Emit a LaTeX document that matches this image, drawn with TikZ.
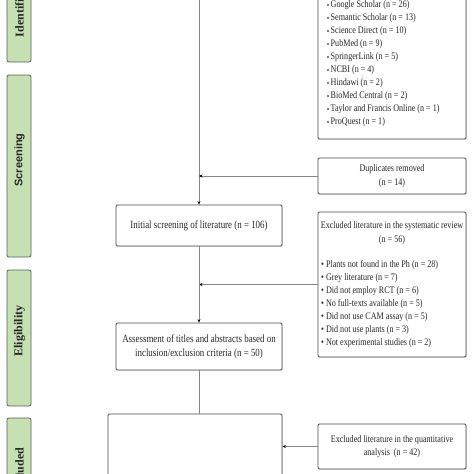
\documentclass[tikz,border=0pt]{standalone}
\usepackage{fontspec}
\setmainfont{Liberation Serif}[FakeStretch=0.81]
\newfontfamily\labserif{Liberation Serif}
\newfontfamily\labsans{Liberation Sans}
\usetikzlibrary{arrows.meta,shadows}
\definecolor{phasegreen}{HTML}{C6E0B4}
\definecolor{phaseedge}{HTML}{56634D}
\definecolor{boxedge}{HTML}{4A4A4A}
\definecolor{linkgray}{HTML}{858585}
\begin{document}
\begin{tikzpicture}[x=1pt,y=-1pt,
  phase/.style={draw=phaseedge, fill=phasegreen, line width=0.8pt, rounded corners=2pt},
  phaselab/.style={rotate=90, inner sep=0pt, text=black!85, font=\labserif\fontsize{12}{14}\selectfont\bfseries},
  phaselabsans/.style={rotate=90, inner sep=0pt, text=black!85, font=\labsans\fontsize{11}{13}\selectfont\bfseries},
  flowbox/.style={draw=boxedge, line width=0.8pt, rounded corners=1.2pt, fill=white,
     drop shadow={shadow xshift=0.7pt, shadow yshift=-0.7pt, opacity=0.35}},
  centertext/.style={align=center, font=\fontsize{11}{14}\selectfont, text=black!85},
  sidetext/.style={align=center, font=\fontsize{10}{14}\selectfont, text=black!85},
  sidetextb/.style={align=center, font=\fontsize{10}{13}\selectfont, text=black!85},
  listline/.style={anchor=west, inner sep=0pt, text height=7pt, text depth=2pt, font=\fontsize{10}{13}\selectfont, text=black!85},
  link/.style={draw=linkgray, line width=0.9pt, -{Stealth[length=3.5pt,width=3pt,color=black]}},
  linkplain/.style={draw=linkgray, line width=0.9pt},
]
\useasboundingbox (0,0) rectangle (474,474);
\fill[white] (0,0) rectangle (474,474);
\clip (0,0) rectangle (474,474);

% phase bars
\draw[phase] (7,-58) rectangle (31,62);
\draw[phase] (7,75) rectangle (31,257);
\draw[phase] (7,270) rectangle (31,406);
\draw[phase] (7,418) rectangle (31,540);
\node[phaselab] (labident) at (19.5,2.5) {Identification};
\node[phaselabsans] (labscreen) at (19.5,160) {Screening};
\node[phaselab] (labelig) at (19.5,331) {Eligibility};
\node[phaselab] (labincl) at (19.5,470.5) {Included};

% right column boxes
\node[flowbox, minimum width=148pt, minimum height=199pt] (db) at (392,39.5) {};
\foreach \t [count=\i] in {Google Scholar (n = 26), Semantic Scholar (n = 13), Science Direct (n = 10), PubMed (n = 9), SpringerLink (n = 5), NCBI (n = 4), Hindawi (n = 2), BioMed Central (n = 2), Taylor and Francis Online (n = 1), ProQuest (n = 1)}
  \node[listline] (dbitem\i) at (326.5,-8+13*\i) {{\color{gray}\rule[2pt]{1.8pt}{1.8pt}}\hspace{2.2pt}\t};

\node[flowbox, minimum width=148pt, minimum height=36pt, sidetext] (dup) at (392,176) {Duplicates removed\\(n = 14)};

\node[flowbox, minimum width=148pt, minimum height=145pt] (excl1) at (392,284.5) {};
\node[sidetext, inner sep=0pt] (excl1head) at (392,233) {Excluded literature in the systematic review\\(n = 56)};
\foreach \t [count=\i] in {Plants not found in the Ph (n = 28), Grey literature (n = 7), Did not employ RCT (n = 6), No full-texts available (n = 5), Did not use CAM assay (n = 5), Did not use plants (n = 3), Not experimental studies (n = 2)}
  \node[listline] (exitem\i) at (321,252+13*\i) {•~\t};

\node[flowbox, minimum width=148pt, minimum height=45pt, sidetextb] (excl2) at (392,446.5) {Excluded literature in the quantitative\\analysis~~(n = 42)};

% central column boxes
\node[flowbox, minimum width=166pt, minimum height=41pt, centertext] (init) at (199,225.5) {Initial screening of literature (n = 106)};
\node[flowbox, minimum width=166pt, minimum height=47pt, centertext] (assess) at (199,346.5) {Assessment of titles and abstracts based on\\inclusion/exclusion criteria (n = 50)};
\node[flowbox, minimum width=174pt, minimum height=106pt] (bottombox) at (195,467) {};

% connectors
\coordinate (topin) at (199,-5);
\draw[link] (topin) -- (init.north);
\draw[link] (dup.west) -- (dup.west -| init.north);
\draw[link] (excl1.west) -- (excl1.west -| init.north);
\draw[link] (init.south) -- (assess.north);
\draw[linkplain] (assess.south) -- (assess.south |- bottombox.north);
\draw[link] (excl2.west) -- (excl2.west -| bottombox.east);
\end{tikzpicture}
\end{document}
